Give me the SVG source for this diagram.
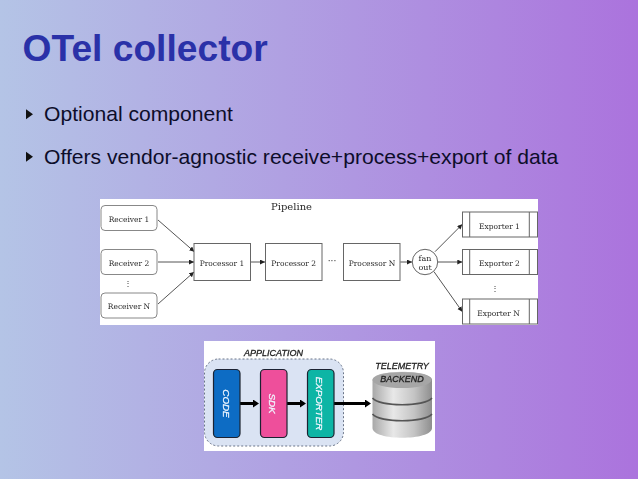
<svg xmlns="http://www.w3.org/2000/svg" width="638" height="479" viewBox="0 0 638 479">
<defs>
<linearGradient id="bg" x1="0" y1="0" x2="1" y2="0"><stop offset="0" stop-color="#b4c4e6"/><stop offset="1" stop-color="#ab73dd"/></linearGradient>
<linearGradient id="disk" x1="0" y1="0" x2="1" y2="0"><stop offset="0" stop-color="#a8a8a8"/><stop offset=".35" stop-color="#e8e8e8"/><stop offset=".7" stop-color="#c4c4c4"/><stop offset="1" stop-color="#8e8e8e"/></linearGradient>
<marker id="a" markerWidth="6" markerHeight="6" refX="5" refY="2.5" orient="auto" markerUnits="userSpaceOnUse"><path d="M0 0L5 2.500L0 5z" fill="#222"/></marker>
<marker id="b" markerWidth="8" markerHeight="10" refX="2" refY="4" orient="auto" markerUnits="userSpaceOnUse"><path d="M0 0L6 4L0 8z" fill="#000"/></marker>
<filter id="soft" x="-2%" y="-2%" width="104%" height="104%"><feGaussianBlur stdDeviation="0.35"/></filter>
</defs>
<style>
.h{font-family:"Liberation Sans",Arial,sans-serif}
.t{font-size:21.1px;fill:#0d0d2a}
.p{font-family:"DejaVu Serif",serif;font-size:7.5px;fill:#2a2a2a;text-anchor:middle}
.box{fill:#fff;stroke:#666;stroke-width:1}
.r{fill:#fff;stroke:#888;stroke-width:1}
.c{fill:none;stroke:#555;stroke-width:1;marker-end:url(#a)}
.k{fill:none;stroke:#000;stroke-width:3;marker-end:url(#b)}
.hand{font-family:"Liberation Sans",sans-serif;font-style:italic;font-size:9px;fill:#222;stroke:#222;stroke-width:.3;text-anchor:middle}
.w{font-family:"Liberation Sans",sans-serif;font-style:italic;font-size:9.8px;fill:#f0f6ff;stroke:#f0f6ff;stroke-width:.25;text-anchor:middle}
.tile{stroke:#1c2430;stroke-width:1.2}
.disk{fill:url(#disk)}
.rim{fill:none;stroke:#555;stroke-width:1.6}
</style>
<rect width="638" height="479" fill="url(#bg)"/>
<g id="slide-text">
<text class="h" x="22.500" y="61" font-size="37.200" font-weight="bold" fill="#2a31a8">OTel collector</text>
<path d="M26 109.300L33 114.300L26 119.300z" fill="#111"/>
<text class="h t" x="44" y="120.500">Optional component</text>
<path d="M26 151.700L33 156.700L26 161.700z" fill="#111"/>
<text class="h t" x="44" y="163.500">Offers vendor-agnostic receive+process+export of data</text>
</g>
<g filter="url(#soft)">
<rect id="pipeline-panel" x="100" y="199" width="438" height="126" fill="#fff"/>
<text class="p" x="291.500" y="210" style="font-size:10px">Pipeline</text>
<g id="connectors-pipeline">
<path class="c" d="M158 220L194.300 251.700"/>
<path class="c" d="M158 262L194 262"/>
<path class="c" d="M158 304L194 272"/>
<path class="c" d="M250.700 262L265 262"/>
<path class="c" d="M400.300 262L412 262"/>
<path class="c" d="M435 251.700L462.300 224.300"/>
<path class="c" d="M437.700 262L462.300 262"/>
<path class="c" d="M434 271.700L462.300 311.700"/>
</g>
<g id="receiver-1"><rect class="r" x="101" y="205.500" width="56" height="25" rx="4"/><text class="p" x="129" y="222">Receiver 1</text></g>
<g id="receiver-2"><rect class="r" x="101" y="249.500" width="56" height="25" rx="4"/><text class="p" x="129" y="265.500">Receiver 2</text></g>
<g id="receiver-n"><rect class="r" x="101" y="293" width="56" height="25" rx="4"/><text class="p" x="129" y="309">Receiver N</text></g>
<text class="p" x="128" y="286">⋮</text>
<g id="processor-1"><rect class="box" x="194" y="243.500" width="56.500" height="37"/><text class="p" x="222" y="266">Processor 1</text></g>
<g id="processor-2"><rect class="box" x="265.500" y="243.500" width="56.500" height="37"/><text class="p" x="293.700" y="266">Processor 2</text></g>
<text class="p" x="332" y="264" style="font-size:9px">···</text>
<g id="processor-n"><rect class="box" x="343.500" y="243.500" width="56.500" height="37"/><text class="p" x="372" y="266">Processor N</text></g>
<g id="fan-out"><circle class="box" cx="425" cy="262" r="12.700"/><text class="p" x="425" y="260.500" style="font-size:8px">fan</text><text class="p" x="425" y="270" style="font-size:8px">out</text></g>
<g id="exporter-1"><rect class="box" x="462.500" y="212" width="75" height="25"/><path class="box" d="M469.700 212V237M529.300 212V237"/><text class="p" x="499.500" y="228.500">Exporter 1</text></g>
<g id="exporter-2"><rect class="box" x="462.500" y="249.500" width="75" height="25"/><path class="box" d="M469.700 249.500V274.500M529.300 249.500V274.500"/><text class="p" x="499.500" y="266">Exporter 2</text></g>
<text class="p" x="495" y="291">⋮</text>
<g id="exporter-n"><rect class="box" x="462.500" y="299" width="75" height="25"/><path class="box" d="M469.700 299V324M529.300 299V324"/><text class="p" x="498.500" y="316">Exporter N</text></g>
<rect id="app-panel" x="204" y="341" width="231" height="110" fill="#fff"/>
<text class="hand" x="273.500" y="355.500">APPLICATION</text>
<rect id="application" x="204.500" y="359" width="139" height="87" rx="14" fill="#dae3f3" stroke="#6a7488" stroke-width="1" stroke-dasharray="2 2"/>
<g id="connectors-app">
<path class="k" d="M240 403.500H255"/>
<path class="k" d="M287 403.500H302"/>
<path class="k" d="M334 403.500H367"/>
</g>
<g id="code"><rect class="tile" x="213.500" y="369.500" width="26.500" height="68" rx="4" fill="#0b6cc4"/><text class="w" transform="translate(222.500 403.500) rotate(90)">CODE</text></g>
<g id="sdk"><rect class="tile" x="260.500" y="369.500" width="26.500" height="68" rx="4" fill="#ee4f9b"/><text class="w" transform="translate(269 403.500) rotate(90)">SDK</text></g>
<g id="exporter"><rect class="tile" x="307.500" y="369.500" width="26.500" height="68" rx="4" fill="#10b5a5"/><text class="w" transform="translate(316 403.500) rotate(90)">EXPORTER</text></g>
<g id="telemetry-backend">
<path class="disk" d="M372.500 380C372.500 369 432 369 432 380V428C432 441 372.500 441 372.500 428z"/>
<ellipse cx="402" cy="380" rx="29.500" ry="8" fill="#a6a6a6"/>
<path class="rim" d="M372.500 398C380 407 424 407 432 398"/>
<path class="rim" d="M372.500 414C380 423 424 423 432 414"/>
<text class="hand" x="402" y="368.500">TELEMETRY</text>
<text class="hand" x="402" y="381.500">BACKEND</text>
</g>
</g>
</svg>
